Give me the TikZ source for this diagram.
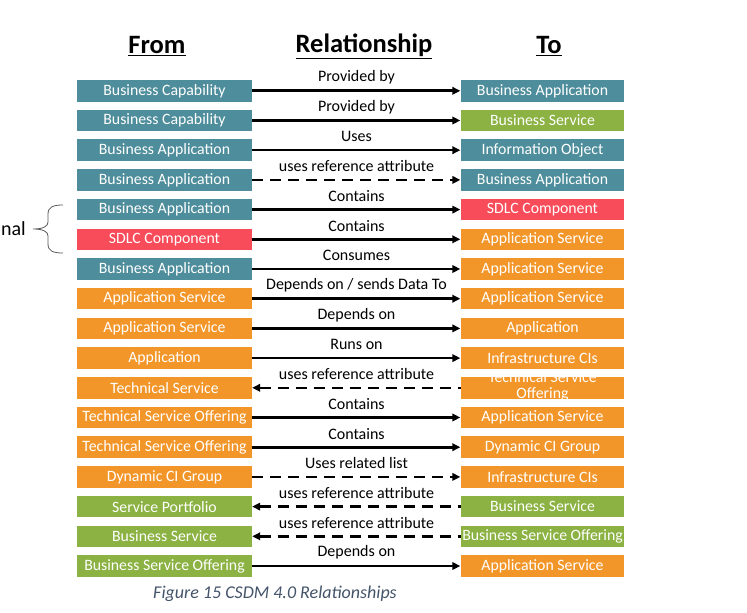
\documentclass[tikz,border=0pt]{standalone}
\usepackage{fontspec}
\setmainfont{Carlito}
\usetikzlibrary{arrows.meta}
\definecolor{cteal}{RGB}{78,141,155}
\definecolor{corange}{RGB}{243,150,42}
\definecolor{cgreen}{RGB}{139,178,67}
\definecolor{cred}{RGB}{248,76,90}
\definecolor{capcol}{RGB}{68,84,106}
\newcommand{\relrow}[7]{%
  \pgfmathsetmacro{\yy}{90.8+(#1-1)*29.7}
  \node[lbox, fill=#2] (L#1) at (164.5,\yy) {#3};
  \node[rbox, fill=#4] (R#1) at (542.5,\yy) {#5};
  \draw[#6] (L#1) -- (R#1);
  \node[lab] (T#1) at (356.5,\yy-13.5) {#7};
}
\begin{document}
\begin{tikzpicture}[x=1bp,y=-1bp,
  box/.style={minimum height=21.5bp, inner sep=0pt, text=white, font=\fontsize{15.8bp}{17bp}\selectfont},
  lbox/.style={box, minimum width=175bp},
  rbox/.style={box, minimum width=163bp},
  fwd/.style={line width=2.6bp, -{Triangle[length=8bp,width=7.5bp]}, shorten >=0.5bp},
  dfwd/.style={fwd, dash pattern=on 11bp off 7bp},
  dback/.style={line width=2.6bp, {Triangle[length=8bp,width=7.5bp]}-, dash pattern=on 11bp off 7bp},
  lab/.style={font=\fontsize{16bp}{17bp}\selectfont, inner sep=0pt},
  head/.style={font=\fontsize{26.5bp}{28bp}\selectfont\bfseries, inner sep=0pt}]
\useasboundingbox (0,0) rectangle (747,613);
\fill[white] (0,0) rectangle (747,613);

\node[head] (hfrom) at (157,46) {\underline{From}};
\node[head] (hrel) at (364,46) {\underline{Relationship}};
\node[head] (hto) at (549,46) {\underline{To}};

\relrow{1}{cteal}{Business Capability}{cteal}{Business Application}{fwd}{Provided by}
\relrow{2}{cteal}{Business Capability}{cgreen}{Business Service}{fwd}{Provided by}
\relrow{3}{cteal}{Business Application}{cteal}{Information Object}{fwd}{Uses}
\relrow{4}{cteal}{Business Application}{cteal}{Business Application}{dfwd}{uses reference attribute}
\relrow{5}{cteal}{Business Application}{cred}{SDLC Component}{fwd}{Contains}
\relrow{6}{cred}{SDLC Component}{corange}{Application Service}{fwd}{Contains}
\relrow{7}{cteal}{Business Application}{corange}{Application Service}{fwd}{Consumes}
\relrow{8}{corange}{Application Service}{corange}{Application Service}{fwd}{Depends on / sends Data To}
\relrow{9}{corange}{Application Service}{corange}{Application}{fwd}{Depends on}
\relrow{10}{corange}{Application}{corange}{Infrastructure CIs}{fwd}{Runs on}
\relrow{11}{corange}{Technical Service}{corange}{}{dback}{uses reference attribute}
\relrow{12}{corange}{Technical Service Offering}{corange}{Application Service}{fwd}{Contains}
\relrow{13}{corange}{Technical Service Offering}{corange}{Dynamic CI Group}{fwd}{Contains}
\relrow{14}{corange}{Dynamic CI Group}{corange}{Infrastructure CIs}{dfwd}{Uses related list}
\relrow{15}{cgreen}{Service Portfolio}{cgreen}{Business Service}{dback}{uses reference attribute}
\relrow{16}{cgreen}{Business Service}{cgreen}{Business Service Offering}{dback}{uses reference attribute}
\relrow{17}{cgreen}{Business Service Offering}{corange}{Application Service}{fwd}{Depends on}

\begin{scope}
  \clip (R11.south west) rectangle (R11.north east);
  \node[lab, text=white, align=center, font=\fontsize{15.8bp}{16bp}\selectfont] (R11t) at ([yshift=1.5bp]R11.center) {Technical Service\\Offering};
\end{scope}

\node[font=\fontsize{20bp}{22bp}\selectfont, anchor=east, inner sep=0pt] (nal) at (26,229) {nal};
\draw[line width=0.8bp, draw=black!65]
  (63,205) .. controls (53,205) and (48,207) .. (48,214) -- (48,222)
  .. controls (48,226) and (44,229) .. (33,229)
  .. controls (44,229) and (48,232) .. (48,236) -- (48,244)
  .. controls (48,251) and (53,253) .. (63,253);

\node[font=\fontsize{18bp}{20bp}\selectfont\itshape, text=capcol, inner sep=0pt] (cap) at (275,594) {Figure 15 CSDM 4.0 Relationships};
\end{tikzpicture}
\end{document}
